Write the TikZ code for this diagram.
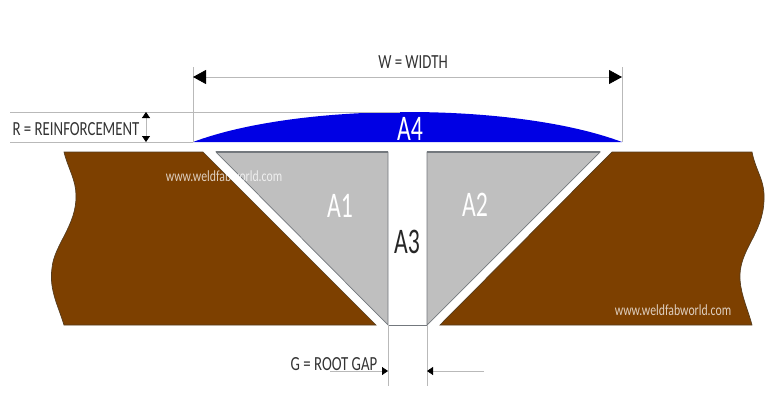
\documentclass[tikz,border=0pt]{standalone}
\usepackage{fontspec}
\setmainfont{Carlito}[FakeStretch=0.74]
\newfontfamily\areafont{Carlito}[FakeStretch=0.66]
\newfontfamily\markfont{Carlito}[FakeStretch=0.76]
\usetikzlibrary{arrows.meta}
\definecolor{plate}{RGB}{125,64,0}
\definecolor{platee}{RGB}{85,60,30}
\definecolor{weld}{RGB}{191,191,191}
\definecolor{weldedge}{RGB}{115,120,125}
\definecolor{capblue}{RGB}{0,0,228}
\definecolor{dimline}{RGB}{185,185,185}
\tikzset{
  platefill/.style={fill=plate,draw=platee,line width=.7pt},
  weldfill/.style={fill=weld,draw=weldedge,line width=.7pt},
  dimthin/.style={draw=dimline,line width=.8pt},
  bigarrow/.style={dimthin,{Triangle[length=13pt,width=14pt,black]}-{Triangle[length=13pt,width=14pt,black]}},
  smallarrow/.style={dimthin,{Triangle[length=6pt,width=8pt,black]}-{Triangle[length=6pt,width=8pt,black]}},
  gaparrow/.style={dimthin,-{Triangle[length=6pt,width=8pt,black]}},
  dimtext/.style={text=black!80,inner sep=0pt,font=\fontsize{20}{20}\selectfont},
  areawhite/.style={text=white,inner sep=0pt,font=\areafont\fontsize{36}{36}\selectfont},
  areablack/.style={text=black!85,inner sep=0pt,font=\areafont\fontsize{36}{36}\selectfont},
  mark text/.style={text=white,text opacity=.75,inner sep=0pt,font=\markfont\fontsize{15.5}{16}\selectfont}
}
\begin{document}
\begin{tikzpicture}[x=1pt,y=-1pt]
\useasboundingbox (0,0) rectangle (768,402);
% plates
\fill[platefill] (64,152) -- (203,152) -- (376,325) -- (64,325)
  .. controls (58,305) and (49,290) .. (52,268)
  .. controls (54,245) and (77,225) .. (76,195)
  .. controls (76,180) and (68,168) .. (64,152) -- cycle;
\fill[platefill] (612,152) -- (752,152)
  .. controls (756,172) and (765,180) .. (764,200)
  .. controls (763,235) and (738,250) .. (740,280)
  .. controls (741,295) and (748,310) .. (752,325) -- (440,325) -- cycle;
% weld areas
\fill[weldfill] (216,152) -- (388,152) -- (388,325) -- cycle;
\fill[weldfill] (427,152) -- (600,152) -- (427,325) -- cycle;
\draw[weldedge,line width=1.6pt] (216,152) -- (388,152) (427,152) -- (600,152);
\draw[weldedge,line width=.7pt] (388,325) -- (427,325);
% cap
\fill[capblue] (193,142) .. controls (300,102) and (515,102) .. (622,142) -- cycle;
% reference coordinates
\coordinate (wl) at (193,77);
\coordinate (wr) at (622,77);
\coordinate (wlt) at (193,67);
\coordinate (wrt) at (622,67);
\coordinate (wlb) at (193,142);
\coordinate (wrb) at (622,142);
\coordinate (rt) at (146,112);
\coordinate (rb) at (146,142);
\coordinate (rtl) at (10,112);
\coordinate (rtr) at (400,112);
\coordinate (rbl) at (10,142);
\coordinate (gl) at (388,325);
\coordinate (gr) at (427,325);
\coordinate (glb) at (388,386);
\coordinate (grb) at (427,386);
\coordinate (gla) at (388,371);
\coordinate (gra) at (427,371);
\coordinate (gls) at (330,371);
\coordinate (grs) at (484,371);
% dimension lines
\draw[dimthin] (wlt) -- (wlb);
\draw[dimthin] (wrt) -- (wrb);
\draw[bigarrow] (wl) -- (wr);
\draw[dimthin] (rtl) -- (rtr);
\draw[dimthin] (rbl) -- (wlb);
\draw[smallarrow] (rt) -- (rb);
\draw[dimthin] (gl) -- (glb);
\draw[dimthin] (gr) -- (grb);
\draw[gaparrow] (gls) -- (gla);
\draw[gaparrow] (grs) -- (gra);
% labels
\node[dimtext] (wtxt) at (413,62) {W = WIDTH};
\node[dimtext] (rtxt) at (76,129) {R = REINFORCEMENT};
\node[dimtext] (gtxt) at (334,364) {G = ROOT GAP};
\node[areawhite] (a1) at (340,206) {A1};
\node[areawhite] (a2) at (475,205) {A2};
\node[areablack] (a3) at (407,242) {A3};
\node[areawhite] (a4) at (410,129) {A4};
\node[mark text] (m1) at (224,176) {www.weldfabworld.com};
\node[mark text] (m2) at (673,310) {www.weldfabworld.com};
\end{tikzpicture}
\end{document}
